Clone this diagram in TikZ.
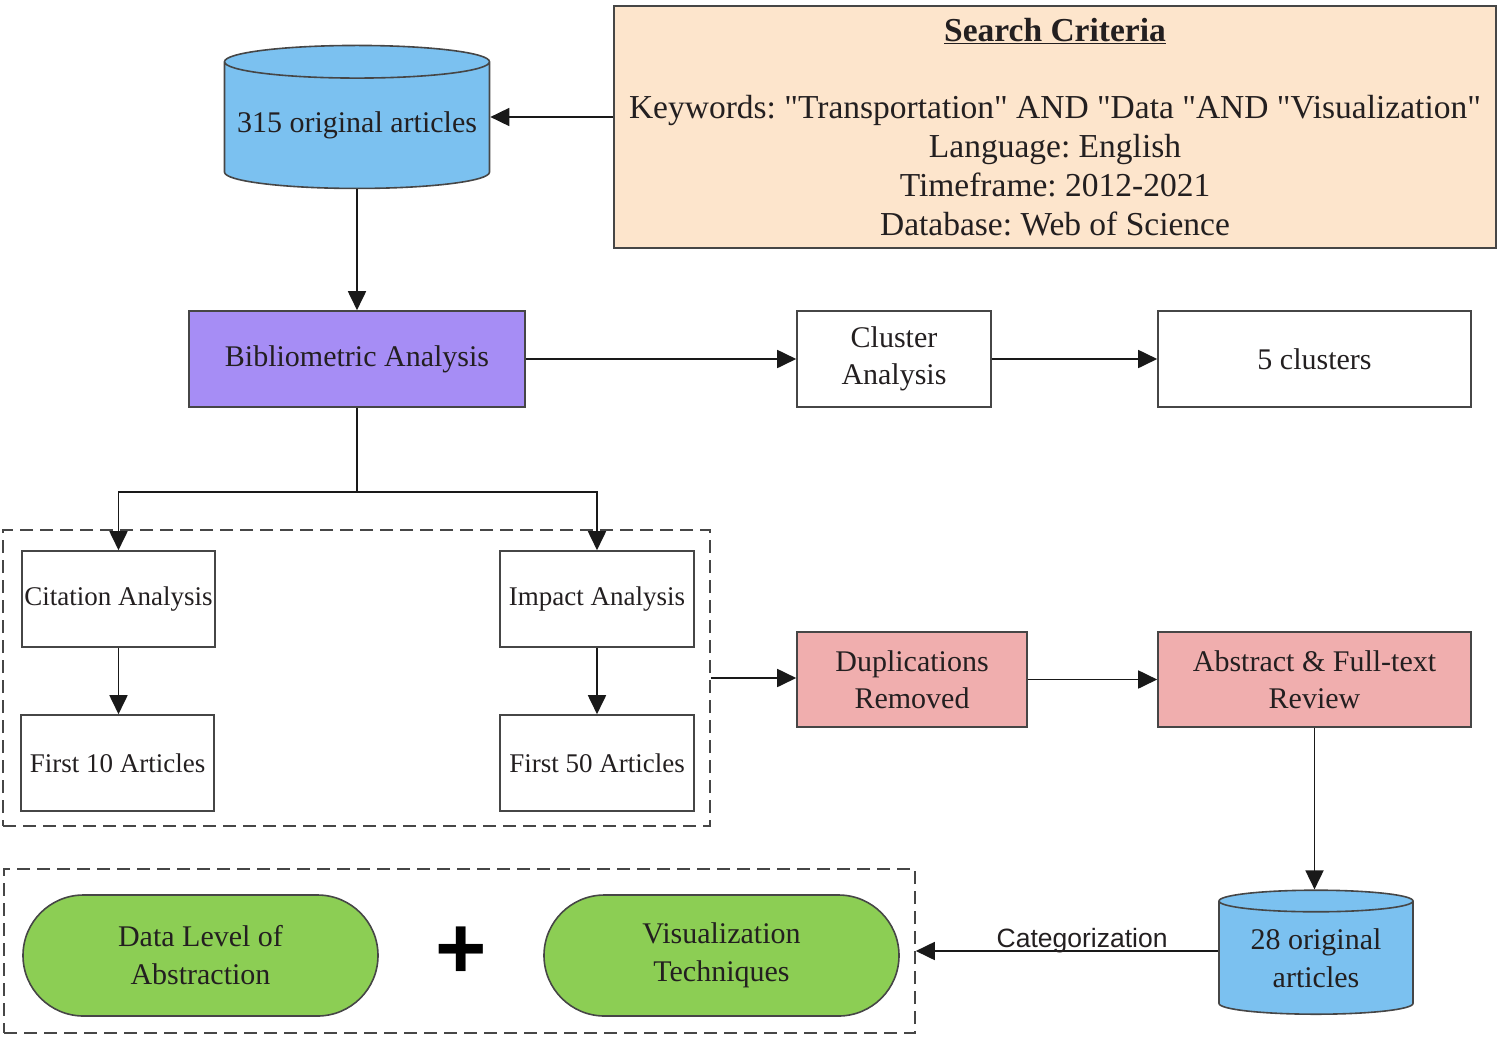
\documentclass[tikz,border=0pt]{standalone}
\usepackage{fontspec}
\setmainfont{Liberation Serif}
\setsansfont{Liberation Sans}
\usetikzlibrary{shapes.geometric,shapes.misc,arrows.meta,calc}
\definecolor{cblue}{RGB}{123,193,240}
\definecolor{cpeach}{RGB}{253,229,204}
\definecolor{cpurple}{RGB}{166,141,245}
\definecolor{cpink}{RGB}{240,174,174}
\definecolor{cgreen}{RGB}{140,206,84}
\definecolor{ctext}{RGB}{35,31,32}
\definecolor{cline}{RGB}{70,70,70}
\newcommand\qmark{{\XeTeXglyph\XeTeXcharglyph"22\relax}}
\frenchspacing
\begin{document}
\begin{tikzpicture}[x=1pt,y=-1pt,
  every node/.style={text=ctext},
  boxnode/.style={draw=cline,line width=1.6pt,rectangle,inner sep=0pt,align=center,
    font=\fontsize{30}{37}\selectfont},
  smallbox/.style={boxnode,font=\fontsize{27}{33}\selectfont},
  cyl/.style={cylinder,shape border rotate=90,draw=cline,line width=1.6pt,fill=cblue,
    inner sep=0pt,align=center,font=\fontsize{30}{38}\selectfont},
  stadium/.style={rounded rectangle,rounded rectangle arc length=180,draw=cline,line width=1.6pt,
    fill=cgreen,inner sep=0pt,align=center,font=\fontsize{30}{38}\selectfont},
  dashbox/.style={draw=cline,line width=1.6pt,dash pattern=on 13pt off 7pt,rectangle,inner sep=0pt},
  arr/.style={draw=black!90,line width=1.8pt,-{Triangle[length=19pt,width=18pt]}},
  plain/.style={draw=black!90,line width=1.8pt}
]
\useasboundingbox (0,0) rectangle (1500,1037);

% top
\node[cyl,minimum width=265pt,minimum height=143pt,aspect=0.136] (c315) at (357,125.5) {315 original articles};
\node[boxnode,fill=cpeach,minimum width=882pt,minimum height=242pt,font=\fontsize{33.5}{39}\selectfont] (search) at (1055,127)
  {\underline{\textbf{Search Criteria}}\\[38pt]
   Keywords: \qmark Transportation\qmark{} AND \qmark Data \qmark AND \qmark Visualization\qmark\\
   Language: English\\
   Timeframe: 2012-2021\\
   Database: Web of Science};

% row 2
\node[boxnode,fill=cpurple,minimum width=336pt,minimum height=96pt] (bib) at (357,359) {Bibliometric Analysis};
\node[boxnode,minimum width=194pt,minimum height=96pt] (clus) at (894,359) {Cluster\\Analysis};
\node[boxnode,minimum width=313pt,minimum height=96pt] (five) at (1314.5,359) {5 clusters};

% dashed group 1
\node[dashbox,minimum width=707pt,minimum height=296pt] (grp1) at (356.5,678) {};
\node[smallbox,minimum width=193pt,minimum height=96pt] (cit) at (118.5,599) {Citation Analysis};
\node[smallbox,minimum width=193pt,minimum height=96pt] (f10) at (117.5,763) {First 10 Articles};
\node[smallbox,minimum width=194pt,minimum height=96pt] (imp) at (597,599) {Impact Analysis};
\node[smallbox,minimum width=194pt,minimum height=96pt] (f50) at (597,763) {First 50 Articles};

% row pink
\node[boxnode,fill=cpink,minimum width=230pt,minimum height=95pt] (dup) at (912,679.5) {Duplications\\Removed};
\node[boxnode,fill=cpink,minimum width=313pt,minimum height=95pt] (abs) at (1314.5,679.5) {Abstract \& Full-text\\Review};

% bottom
\node[cyl,minimum width=194pt,minimum height=124pt,aspect=0.165] (c28) at (1316,958) {28 original\\articles};
\node[dashbox,minimum width=911pt,minimum height=164pt] (grp2) at (459.5,951) {};
\node[stadium,minimum width=355pt,minimum height=121pt] (dla) at (200.5,955.5) {Data Level of\\Abstraction};
\node[stadium,minimum width=355pt,minimum height=121pt] (vis) at (721.5,955.5) {Visualization\\Techniques};
\node[font=\sffamily\bfseries\fontsize{88}{88}\selectfont,inner sep=0pt,text=black] (plus) at (461,953) {+};

% connectors
\coordinate (a1) at ($(c315.east)+(0,-8.5)$);
\coordinate (a2) at ($(c28.west)+(0,-7)$);
\draw[arr] (a1 -| search.west) -- (a1);
\draw[arr] (c315.south) -- (bib.north);
\draw[arr] (bib.east) -- (clus.west |- bib.east);
\draw[arr] (clus.east |- five.west) -- (five.west);
\draw[plain] (bib.south) -- ++(0,84) coordinate (fork);
\draw[arr] (fork) -| (cit.north);
\draw[arr] (fork) -| (imp.north);
\draw[arr] (cit.south) -- (f10.north -| cit.south);
\draw[arr] (imp.south) -- (f50.north);
\draw[arr] (grp1.east) -- (grp1.east -| dup.west);
\draw[arr] (dup.east) -- (abs.west);
\draw[arr] (abs.south) -- (abs.south |- c28.north);
\draw[arr] (a2) -- node[pos=0.45,above=-5pt,font=\sffamily\fontsize{26.5}{30}\selectfont,inner sep=2pt] (catlab) {Categorization} (a2 -| grp2.east);
\end{tikzpicture}
\end{document}
